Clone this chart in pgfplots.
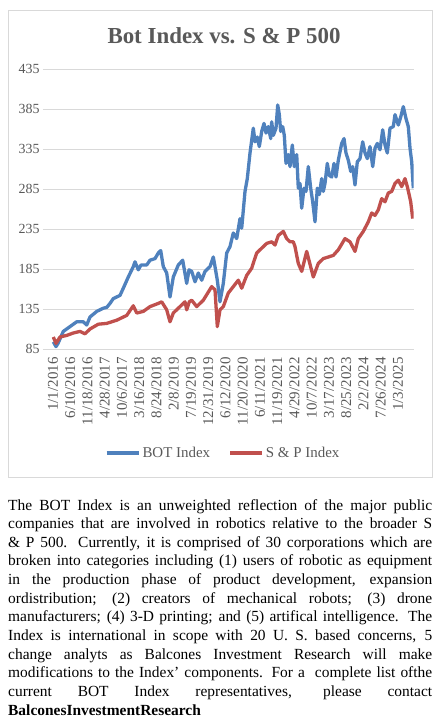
\documentclass[border=0pt]{standalone}
\usepackage{pgfplots}
\pgfplotsset{compat=1.18}
\usepackage{fontspec}
\setmainfont{Liberation Serif}
\definecolor{botblue}{HTML}{4F81BD}
\definecolor{spred}{HTML}{C0504D}
\definecolor{txtgray}{HTML}{595959}
\definecolor{gridgray}{HTML}{D9D9D9}
\begin{document}
\begin{tikzpicture}
\useasboundingbox (0,0) rectangle (448bp,-718bp);
\fill[white] (0,0) rectangle (448bp,-718bp);
\draw[gridgray, line width=0.75bp] (8bp,-10bp) rectangle (432bp,-477bp);
\node[font=\fontsize{23}{27}\selectfont\bfseries, text=txtgray] at (224bp,-36bp) {Bot Index vs. S \& P 500};
\begin{axis}[
  at={(43bp,-349bp)}, anchor=south west,
  scale only axis, width=370.5bp, height=280bp,
  xmin=43, xmax=413.5, ymin=85, ymax=435,
  ytick={85,135,...,435},
  xtick={53,70.25,87.5,104.75,122,139.25,156.5,173.75,191,208.25,225.5,242.75,260,277.25,294.5,311.75,329,346.25,363.5,380.75,398},
  xticklabels={1/1/2016,6/10/2016,11/18/2016,4/28/2017,10/6/2017,3/16/2018,8/24/2018,2/8/2019,7/19/2019,12/31/2019,6/12/2020,11/20/2020,6/11/2021,11/19/2021,4/29/2022,10/7/2022,3/17/2023,8/25/2023,2/2/2024,7/26/2024,1/3/2025},
  ymajorgrids, grid style={gridgray, line width=0.75bp},
  axis line style={draw=none}, major tick length=0pt,
  yticklabel style={font=\fontsize{14}{16}\selectfont, text=txtgray},
  xticklabel style={font=\fontsize{15}{16}\selectfont, text=txtgray, rotate=90, anchor=east},
  xticklabel shift=5bp,
  /pgf/number format/assume math mode=true,
  legend style={at={(0.486,-0.371)}, anchor=center, draw=none, fill=none,
    legend columns=2, font=\fontsize{15}{18}\selectfont, text=txtgray,
    /tikz/every even column/.append style={column sep=16bp}},
  legend image code/.code={\draw[#1, line width=3.8bp] (0bp,0bp) -- (32bp,0bp);},
]
\addplot[botblue, line width=3.3bp, line join=round, mark=none] coordinates {
(53.3,94)(56,88)(58,92)(63.3,107)(70,113)(76.7,119)(83.3,119)(86.7,115)(90,125)
(96.7,132)(103.3,136)(106.7,137)(110,142)(113.3,148)(120,152)(123.3,161)(128.3,175)
(133.3,188)(135,194)(138.3,184)(141,190)(146.7,190)(150,196)(155,198)(158.3,205)
(160.7,208)(163.3,188)(166.7,180)(170,150)(173.3,175)(178.3,190)(182.7,196)(186.7,167)
(189,184)(191.7,182)(195,169)(198.3,180)(201.7,171)(205,182)(210,188)(213.3,200)
(215,188)(217.3,171)(220,144)(223.3,167)(226.7,205)(230,213)(233.3,230)(236.7,223)
(240,248)(241.7,236)(245,282)(247.3,298)(250,330)(253.3,361)(255,344)(257.3,350)
(259.3,338)(261.7,357)(264,367)(266,355)(268.3,363)(270.7,348)(271.7,369)(273.3,352)
(276,361)(277.7,390)(279.3,378)(280.7,357)(282.7,363)(284.3,352)(286,317)(288.3,328)
(290,313)(292.3,340)(294.3,313)(296.7,328)(298.3,286)(300,292)(301.7,261)(304,286)
(306,282)(308.3,313)(310.7,286)(312.7,269)(315,244)(317.3,286)(319.3,278)(321.7,298)
(323.3,282)(325,292)(327.3,317)(329.3,302)(331.7,300)(334,317)(336,300)(338.3,321)
(341.7,342)(344,348)(346,330)(348.3,321)(350.7,307)(352.7,313)(355,290)(357.3,319)
(360,323)(362.7,344)(365,330)(367.3,323)(370,338)(372.7,313)(375,336)(377.3,342)
(380,334)(382.7,359)(385,340)(387.3,330)(390,361)(393.3,363)(395,378)(398.3,365)
(400.7,375)(403.3,388)(406,373)(408.3,363)(410,336)(411.7,319)(413.3,286)
};
\addlegendentry{BOT Index}
\addplot[spred, line width=3.3bp, line join=round, mark=none] coordinates {
(53.3,100)(56,92)(60,100)(66.7,102)(73.3,105)(80,107)(85,104)(90,110)(98.3,116)
(106.7,117)(116.7,121)(126.7,127)(133.3,139)(136.7,130)(143.3,132)(150,138)(158.3,142)
(161.7,144)(166.7,134)(170,119)(173.3,130)(180,138)(185,144)(186.7,134)(189.3,144)
(191.7,146)(196.7,138)(203.3,146)(211.7,163)(215,159)(217.3,113)(220,134)(223.3,138)
(228.3,155)(233.3,163)(238.3,171)(241.7,161)(246.7,177)(251.7,186)(254,195)(256.7,205)
(260,209)(266.7,217)(271.7,219)(275,215)(278.3,227)(283.3,232)(286.7,223)(290,219)(293.3,219)
(295,213)(296.7,202)(298.3,192)(301.7,182)(306.7,207)(313.3,175)(318.3,192)(323.3,198)
(328.3,200)(333.3,202)(338.3,209)(345,223)(350,219)(355,207)(358.3,223)(363.3,232)
(368.3,244)(371.7,255)(375,252)(378.3,259)(381.7,273)(385,269)(388.3,280)(391.7,282)
(395,292)(398.3,296)(401.7,288)(405,298)(407.3,288)(409.3,277)(410.7,269)(412.7,248)
};
\addlegendentry{S \& P Index}
\end{axis}
\node[anchor=north west, inner sep=0pt, align=left, font=\fontsize{15.5}{18.7}\selectfont] at (8bp,-499bp) {%
\makebox[424bp][s]{The BOT Index is an unweighted reflection of the major public}\\
\makebox[424bp][s]{companies that are involved in robotics relative to the broader S}\\
\makebox[424bp][s]{\& P 500. Currently, it is comprised of 30 corporations which are}\\
\makebox[424bp][s]{broken into categories including (1) users of robotic as equipment}\\
\makebox[424bp][s]{in the production phase of product development, expansion}\\
\makebox[424bp][s]{ordistribution; (2) creators of mechanical robots; (3) drone}\\
\makebox[424bp][s]{manufacturers; (4) 3-D printing; and (5) artifical intelligence. The}\\
\makebox[424bp][s]{Index is international in scope with 20 U. S. based concerns, 5}\\
\makebox[424bp][s]{change analyts as Balcones Investment Research will make}\\
\makebox[424bp][s]{modifications to the Index’ components. For a\ \ complete list ofthe}\\
\makebox[424bp][s]{current BOT Index representatives, please contact}\\
\textbf{BalconesInvestmentResearch}};
\end{tikzpicture}
\end{document}
